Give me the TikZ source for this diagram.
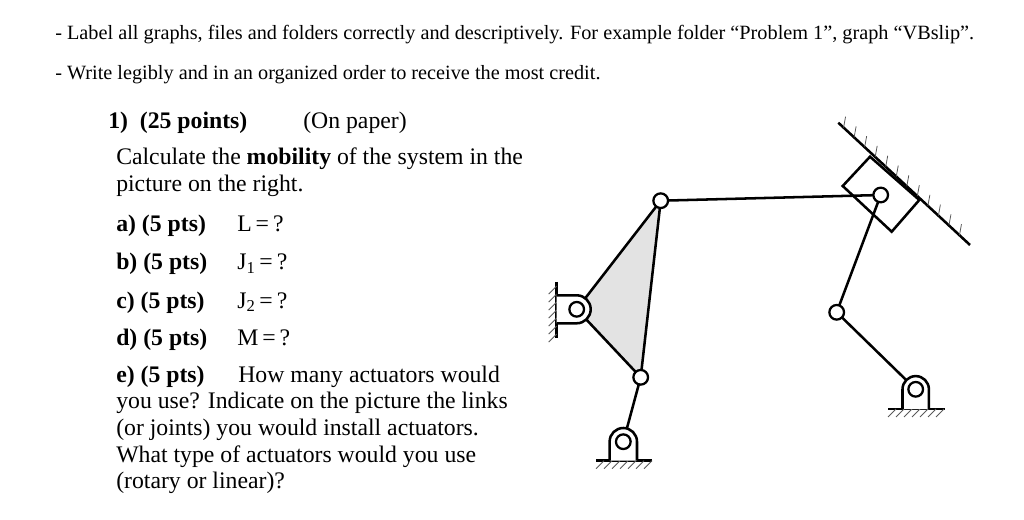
\documentclass[tikz,border=0pt]{standalone}
\usepackage{fontspec}
\setmainfont{Liberation Serif}
\usetikzlibrary{calc}
\begin{document}
\begin{tikzpicture}[x=0.75pt,y=-0.75pt,
  lnk/.style={line width=1.9pt},
  jnt/.style={circle,draw,line width=1.7pt,fill=white,minimum size=11pt,inner sep=0pt},
  hatch/.style={line width=0.6pt,gray!70!black},
  top/.style={anchor=base west,inner sep=0pt,font=\fontsize{15.2}{18}\selectfont},
  body/.style={anchor=base west,inner sep=0pt,font=\fontsize{17.8}{21}\selectfont}]
\useasboundingbox (0,0) rectangle (1024,520);
% text
\node[top] (t1) at (55,40) {- Label all graphs, files and folders correctly and descriptively. For example folder “Problem 1”, graph “VBslip”.};
\node[top] (t2) at (55,80) {- Write legibly and in an organized order to receive the most credit.};
\node[body] (h1) at (108,129) {\textbf{1)\ \ (25 points)}};
\node[body] (h2) at (303,129) {(On paper)};
\node[body] (b1) at (116,165) {Calculate the \textbf{mobility} of the system in the};
\node[body] (b2) at (116,192) {picture on the right.};
\node[body] (qa) at (116,232) {\textbf{a) (5 pts)}};
\node[body] (ra) at (237,232) {L\,=\,?};
\node[body] (qb) at (116,270) {\textbf{b) (5 pts)}};
\node[body] (rb) at (237,270) {J\textsubscript{1}\,=\,?};
\node[body] (qc) at (116,308) {\textbf{c) (5 pts)}};
\node[body] (rc) at (237,308) {J\textsubscript{2}\,=\,?};
\node[body] (qd) at (116,345) {\textbf{d) (5 pts)}};
\node[body] (rd) at (237,345) {M\,=\,?};
\node[body] (qe) at (116,382) {\textbf{e) (5 pts)}};
\node[body] (re) at (238,382) {How many actuators would};
\node[body] (e2) at (116,408) {you use? Indicate on the picture the links};
\node[body] (e3) at (116,435) {(or joints) you would install actuators.};
\node[body] (e4) at (116,462) {What type of actuators would you use};
\node[body] (e5) at (116,488) {(rotary or linear)?};
% mechanism points
\coordinate (A) at (660.7,200.7);
\coordinate (B) at (880.7,195);
\coordinate (C) at (576.7,309.3);
\coordinate (D) at (640.7,377.3);
\coordinate (E) at (623.3,441.7);
\coordinate (F) at (836.7,312.3);
\coordinate (G) at (915.7,389.3);
% inclined wall
\coordinate (W1) at (838.3,122.7);
\coordinate (W2) at (970,245);
\draw[lnk] (W1) -- (W2);
\foreach \t in {0.04,0.12,...,0.98} \draw[hatch] ($(W1)!\t!(W2)$) -- ++(2,-11);
% slider block
\draw[lnk,fill=white] (870,156.7) -- (919.3,200) -- (891.7,231.7) -- (842.7,186) -- cycle;
% triangle
\draw[lnk,fill=gray!22,line join=round] (C) -- (A) -- (D) -- cycle;
% links
\draw[lnk] (A) -- (B);
\draw[lnk] (B) -- (F);
\draw[lnk] (F) -- (G);
\draw[lnk] (D) -- (E);
% left ground support
\draw[lnk] (556.7,282) -- (556.7,338);
\foreach \y in {286,294,...,334} \draw[hatch] (556.7,\y) -- ++(-8,8);
\draw[lnk,fill=white] (556.7,295.3) -- (576.7,295.3) arc[start angle=-90,end angle=90,radius=14] -- (556.7,323.3);
% bottom ground support
\draw[lnk] (596,460.7) -- (651.7,460.7);
\foreach \x in {604,612,...,652} \draw[hatch] (\x,460.7) -- ++(-8,8);
\draw[lnk,fill=white] (609.6,460.7) -- (609.6,441.7) arc[start angle=180,end angle=360,radius=13.7] -- (637,460.7);
% right ground support
\draw[lnk] (888,409) -- (945,409);
\foreach \x in {896,904,...,944} \draw[hatch] (\x,409) -- ++(-8,8);
\draw[lnk,fill=white] (902.5,409) -- (902.5,389.3) arc[start angle=180,end angle=360,radius=13.2] -- (928.9,409);
% joints
\foreach \p in {A,B,C,D,E,F,G} \node[jnt] (j\p) at (\p) {};
\end{tikzpicture}
\end{document}
